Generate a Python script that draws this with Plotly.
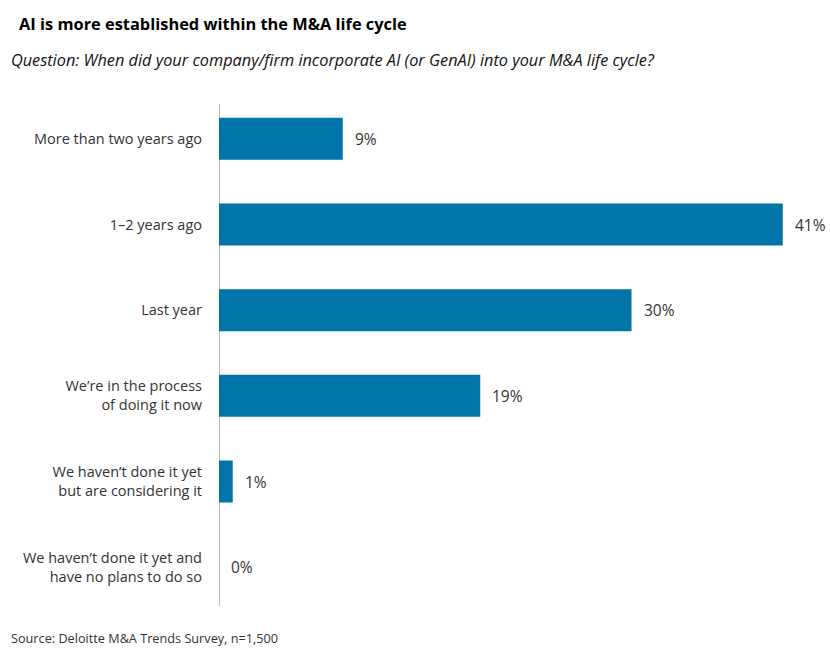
import plotly.graph_objects as go

categories = [
    "More than two years ago",
    "1–2 years ago",
    "Last year",
    "We’re in the process<br>of doing it now",
    "We haven’t done it yet<br>but are considering it",
    "We haven’t done it yet and<br>have no plans to do so",
]
values = [9, 41, 30, 19, 1, 0]
labels = [f"{v}%" for v in values]

FONT = "Open Sans"
BAR = "#0076A8"
TXT = "#333333"

W, H = 830, 657
L, R, T, B = 219, 6, 96, 47

def px_x(p):
    return (p - L) / (W - L - R)

def px_y(p):
    return 1 - (p - T) / (H - T - B)

fig = go.Figure(go.Bar(
    x=values, y=categories, orientation="h",
    marker=dict(color=BAR, line=dict(width=0)),
    hoverinfo="skip",
))

for c, v, t in zip(categories, values, labels):
    fig.add_annotation(x=v, y=c, text=t, showarrow=False, xanchor="left",
                       xshift=10, font=dict(family=FONT, size=15.5, color=TXT))

fig.add_shape(type="line", xref="x", yref="paper", x0=0, x1=0,
              y0=px_y(104), y1=px_y(606), line=dict(color="#A6A6A6", width=1.5), layer="below")

fig.add_annotation(x=px_x(17), y=px_y(23), xref="paper", yref="paper", xanchor="left", yanchor="middle",
                   text="<b>AI is more established within the M&A life cycle</b>", showarrow=False,
                   font=dict(family=FONT, size=16.4, color="#000000"))
fig.add_annotation(x=px_x(9), y=px_y(60), xref="paper", yref="paper", xanchor="left", yanchor="middle",
                   text="<i>Question: When did your company/firm incorporate AI (or GenAI) into your M&A life cycle?</i>",
                   showarrow=False, font=dict(family=FONT, size=16.3, color="#111111"))
fig.add_annotation(x=px_x(9), y=px_y(638), xref="paper", yref="paper", xanchor="left", yanchor="middle",
                   text="Source: Deloitte M&A Trends Survey, n=1,500", showarrow=False,
                   font=dict(family=FONT, size=12.7, color=TXT))

fig.update_layout(
    width=W, height=H,
    margin=dict(l=L, r=R, t=T, b=B),
    paper_bgcolor="white", plot_bgcolor="white",
    bargap=0.51, showlegend=False,
    font=dict(family=FONT, color=TXT),
    xaxis=dict(range=[0, 44], visible=False, fixedrange=True),
    yaxis=dict(autorange="reversed", showline=False,
               showgrid=False, ticks="", ticklabelstandoff=16,
               tickfont=dict(family=FONT, size=14.5, color=TXT), fixedrange=True),
)

fig.write_html("out.html", config={"displayModeBar": False})
